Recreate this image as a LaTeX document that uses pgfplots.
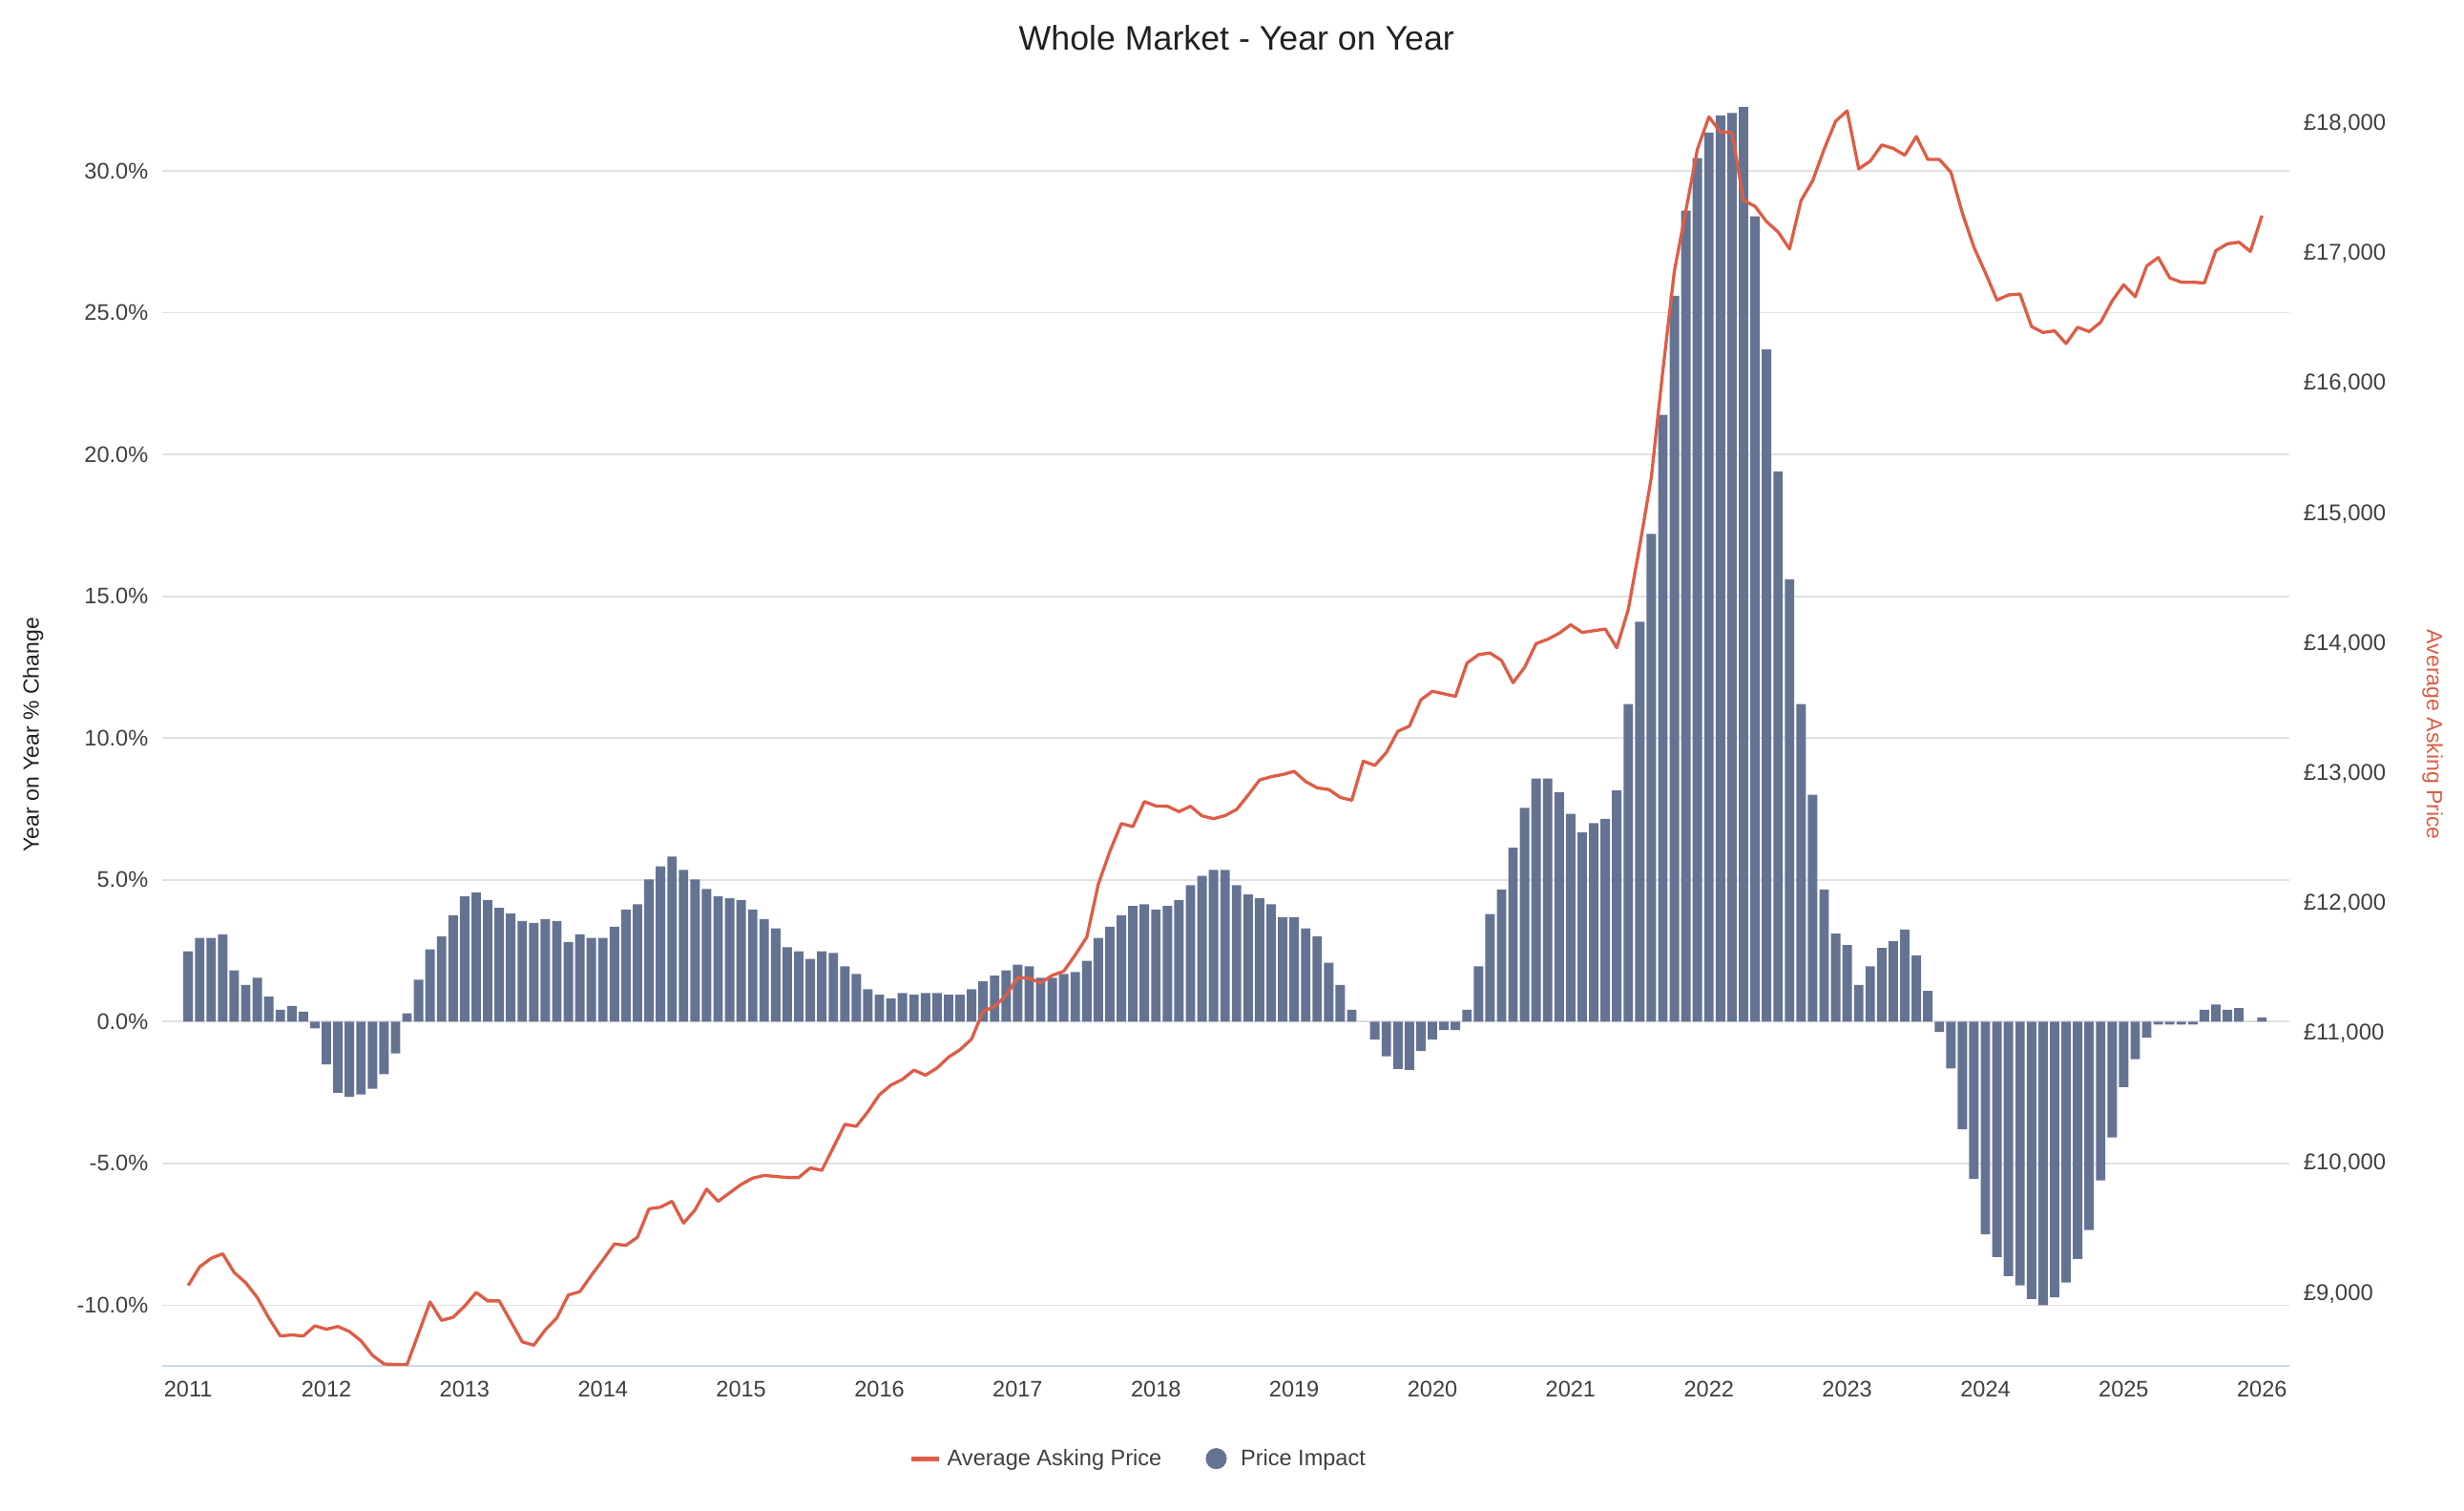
\documentclass[border=0pt]{standalone}
\usepackage{pgfplots}
\usepackage{pgfplotstable}
\pgfplotsset{compat=1.18}
\usepackage{fontspec}
\setmainfont{Liberation Sans}
\definecolor{barcol}{RGB}{101,115,147}
\definecolor{linecol}{RGB}{222,93,70}
\definecolor{gridcol}{RGB}{226,226,226}
\definecolor{axiscol}{RGB}{204,214,235}
\definecolor{textcol}{RGB}{60,64,67}
\definecolor{titlecol}{RGB}{32,33,36}

\pgfplotstableread{
i bar price
0 2.48 9063
1 2.95 9207
2 2.95 9273
3 3.08 9307
4 1.81 9163
5 1.29 9084
6 1.55 8971
7 0.88 8814
8 0.42 8675
9 0.55 8683
10 0.35 8675
11 -0.24 8753
12 -1.51 8727
13 -2.51 8748
14 -2.65 8709
15 -2.57 8638
16 -2.37 8526
17 -1.85 8460
18 -1.12 8455
19 0.29 8455
20 1.48 8696
21 2.55 8937
22 3.00 8795
23 3.75 8819
24 4.42 8905
25 4.55 9010
26 4.29 8945
27 4.01 8945
28 3.81 8788
29 3.55 8630
30 3.48 8604
31 3.62 8722
32 3.55 8814
33 2.81 8990
34 3.08 9016
35 2.95 9142
36 2.95 9260
37 3.35 9383
38 3.95 9372
39 4.14 9435
40 5.01 9653
41 5.48 9666
42 5.82 9711
43 5.35 9543
44 5.01 9645
45 4.68 9805
46 4.42 9711
47 4.35 9776
48 4.29 9841
49 3.95 9889
50 3.62 9910
51 3.29 9902
52 2.62 9894
53 2.48 9894
54 2.21 9968
55 2.48 9949
56 2.42 10125
57 1.95 10303
58 1.68 10288
59 1.14 10400
60 0.95 10531
61 0.82 10605
62 1.01 10649
63 0.95 10720
64 1.01 10681
65 1.01 10736
66 0.95 10820
67 0.95 10877
68 1.14 10959
69 1.42 11174
70 1.62 11208
71 1.81 11297
72 2.01 11431
73 1.95 11427
74 1.55 11391
75 1.55 11449
76 1.68 11481
77 1.75 11606
78 2.14 11743
79 2.95 12150
80 3.35 12402
81 3.75 12617
82 4.08 12593
83 4.14 12786
84 3.95 12752
85 4.08 12750
86 4.29 12708
87 4.81 12750
88 5.14 12676
89 5.35 12654
90 5.35 12678
91 4.81 12725
92 4.48 12835
93 4.35 12952
94 4.14 12977
95 3.68 12994
96 3.68 13018
97 3.29 12940
98 3.01 12891
99 2.08 12879
100 1.29 12818
101 0.42 12796
102 0 13097
103 -0.63 13064
104 -1.22 13163
105 -1.67 13327
106 -1.70 13366
107 -1.04 13569
108 -0.63 13634
109 -0.30 13615
110 -0.30 13595
111 0.42 13851
112 1.95 13916
113 3.79 13929
114 4.66 13871
115 6.13 13700
116 7.54 13818
117 8.57 14001
118 8.57 14034
119 8.09 14081
120 7.33 14146
121 6.67 14087
122 7.00 14100
123 7.15 14113
124 8.15 13969
125 11.2 14264
126 14.1 14756
127 17.2 15280
128 21.4 16100
129 25.6 16866
130 28.6 17332
131 30.45 17804
132 31.35 18053
133 31.95 17935
134 32.04 17935
135 32.25 17410
136 28.4 17365
137 23.7 17247
138 19.4 17168
139 15.6 17037
140 11.2 17410
141 8.0 17561
142 4.66 17804
143 3.1 18020
144 2.7 18099
145 1.29 17653
146 1.95 17712
147 2.6 17837
148 2.83 17810
149 3.25 17758
150 2.34 17902
151 1.08 17725
152 -0.36 17725
153 -1.65 17627
154 -3.8 17312
155 -5.55 17050
156 -7.5 16853
157 -8.3 16644
158 -8.97 16683
159 -9.3 16690
160 -9.78 16440
161 -10.0 16394
162 -9.72 16407
163 -9.2 16309
164 -8.37 16434
165 -7.35 16401
166 -5.6 16473
167 -4.08 16637
168 -2.31 16761
169 -1.32 16669
170 -0.57 16906
171 -0.1 16971
172 -0.1 16814
173 -0.1 16781
174 -0.1 16781
175 0.42 16775
176 0.6 17024
177 0.42 17076
178 0.48 17089
179 0 17018
180 0.15 17293
}\datatable

\begin{document}
\begin{tikzpicture}
\path[use as bounding box] (0pt,0pt) rectangle (1568pt,961pt);
\begin{axis}[
  at={(103.3pt,92pt)}, anchor=south west,
  scale only axis, width=1353.7pt, height=803pt,
  xmin=-2.24, xmax=182.4,
  ymin=-12.14, ymax=32.37,
  ybar, bar width=0.82,
  xtick={0,12,...,180},
  xticklabels={2011,2012,2013,2014,2015,2016,2017,2018,2019,2020,2021,2022,2023,2024,2025,2026},
  ytick={-10,-5,...,30},
  ymajorgrids, grid style={gridcol, line width=1pt},
  major tick length=0pt,
  axis x line*=bottom, axis y line*=left,
  x axis line style={axiscol, line width=1.5pt},
  y axis line style={draw=none},
  tick label style={font=\fontsize{14.3}{16}\selectfont, text=textcol},
  yticklabel={\pgfmathprintnumber[fixed,fixed zerofill,precision=1,assume math mode=true]{\tick}\%},
  yticklabel style={xshift=-5.5pt},
  xticklabel style={yshift=-6pt},
  title={Whole Market - Year on Year},
  every axis title/.style={at={(axis description cs:0.505,1.0523)}, anchor=center, font=\fontsize{21.7}{25}\selectfont, text=titlecol},
  ylabel={Year on Year \% Change},
  every axis y label/.style={at={(axis description cs:-0.0608,0.5)}, anchor=center, rotate=90, font=\fontsize{14}{16}\selectfont, text=titlecol},
]
\addplot[fill=barcol, draw=none] table[x=i, y=bar] {\datatable};
\end{axis}
\begin{axis}[
  at={(103.3pt,92pt)}, anchor=south west,
  scale only axis, width=1353.7pt, height=803pt,
  xmin=-2.24, xmax=182.4,
  ymin=8445, ymax=18154,
  axis x line=none, axis y line*=right,
  y axis line style={draw=none},
  major tick length=0pt,
  scaled y ticks=false,
  ytick={9000,10000,...,18000},
  tick label style={font=\fontsize{14.5}{16}\selectfont, text=textcol},
  yticklabel={£\pgfmathprintnumber[fixed,precision=0,1000 sep={,},assume math mode=true]{\tick}},
  yticklabel style={xshift=5.3pt},
  ylabel={Average Asking Price},
  every axis y label/.style={at={(axis description cs:1.0672,0.5)}, anchor=center, rotate=-90, font=\fontsize{14}{16}\selectfont, text=linecol},
  legend style={at={(0.459,-0.0735)}, anchor=center, draw=none, fill=none, legend columns=-1, font=\fontsize{14.3}{16}\selectfont, text=textcol, /tikz/every even column/.append style={column sep=26pt}},
]
\addplot[linecol, line width=2pt, line join=round, legend image code/.code={\draw[linecol, line width=3pt] (0pt,0pt) -- (18pt,0pt); \path[draw=none, fill=none] (0pt,0pt) -- (21pt,0pt);}] table[x=i, y=price] {\datatable};
\addlegendentry{Average Asking Price}
\addlegendimage{legend image code/.code={\fill[barcol] (6.5pt,0pt) circle (6.5pt); \path[draw=none, fill=none] (0pt,0pt) -- (20pt,0pt);}}
\addlegendentry{Price Impact}
\end{axis}
\end{tikzpicture}
\end{document}
